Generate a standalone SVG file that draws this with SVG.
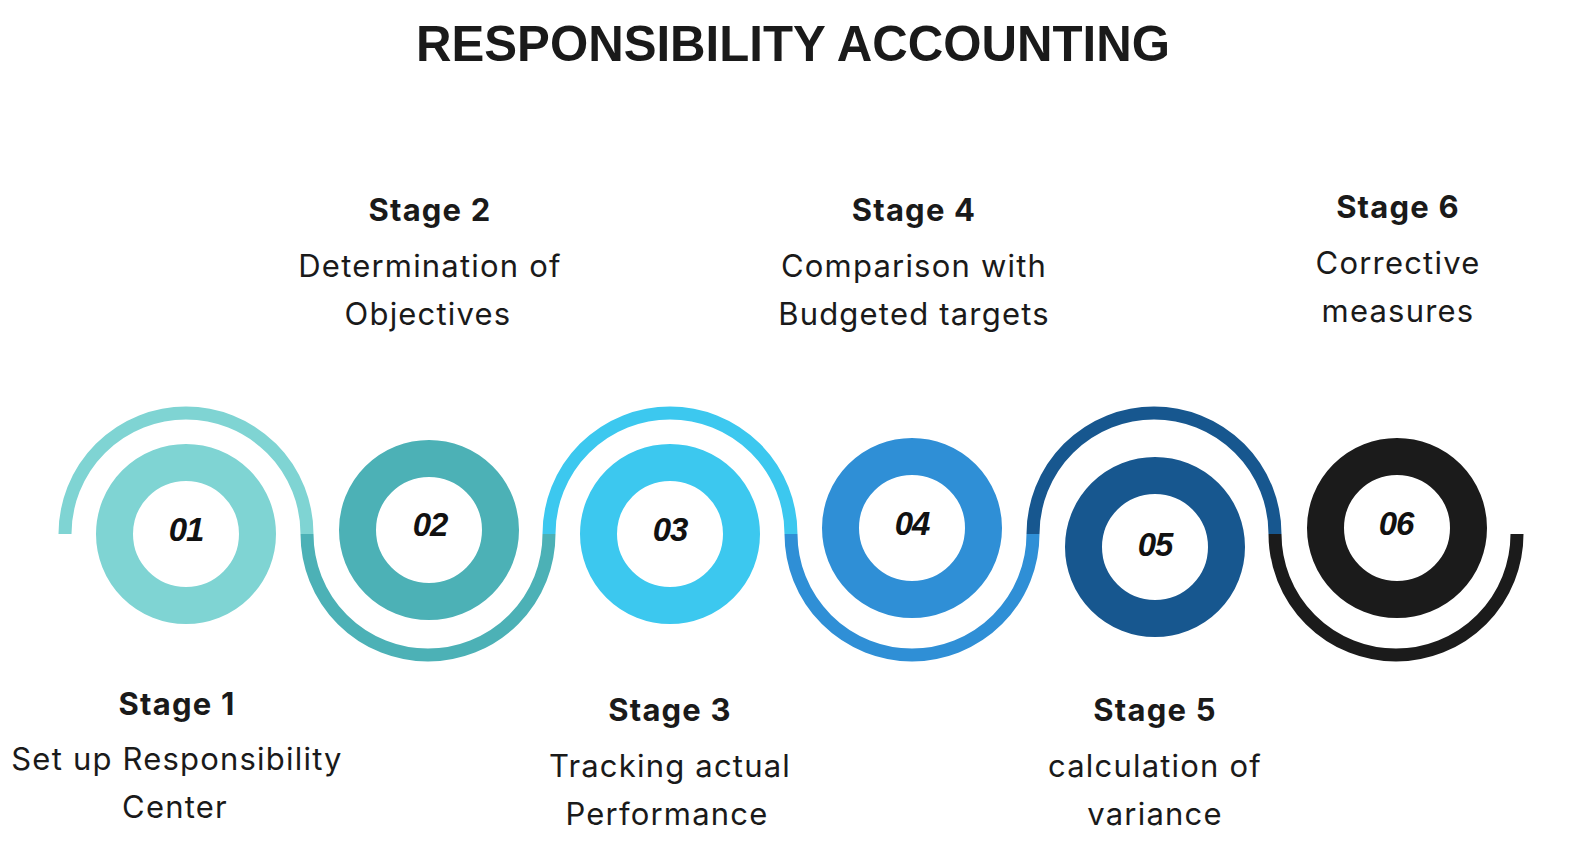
<svg xmlns="http://www.w3.org/2000/svg" width="1582" height="852" viewBox="0 0 1582 852">
<style>
.title{font-family:"Liberation Sans",Arial,sans-serif;font-weight:bold;font-size:50px;fill:#1a1a1a;text-anchor:middle}
.stage{font-family:Inter,"Noto Sans",sans-serif;font-weight:bold;font-size:31px;fill:#1a1a1a;text-anchor:middle;letter-spacing:1.2px}
.desc{font-family:Inter,"Noto Sans",sans-serif;font-size:31px;fill:#1a1a1a;text-anchor:middle;letter-spacing:1.2px}
.num{font-family:"Liberation Sans",Arial,sans-serif;font-weight:bold;font-style:italic;font-size:33px;fill:#111;text-anchor:middle;letter-spacing:-1px}
.ring{fill:#fff;stroke-width:37}
.arc{fill:none;stroke-width:13}
</style>
<rect width="1582" height="852" fill="#fff"/>
<text class="title" x="793" y="61" textLength="754" lengthAdjust="spacingAndGlyphs">RESPONSIBILITY ACCOUNTING</text>
<g id="connectors">
<path class="arc" stroke="#7fd4d3" d="M65 534 A121 121 0 0 1 307 534"/>
<path class="arc" stroke="#4cb1b6" d="M307 534 A121 121 0 0 0 549 534"/>
<path class="arc" stroke="#3cc8ef" d="M549 534 A121 121 0 0 1 791 534"/>
<path class="arc" stroke="#2f8fd6" d="M791 534 A121 121 0 0 0 1033 534"/>
<path class="arc" stroke="#17578f" d="M1033 534 A121 121 0 0 1 1275 534"/>
<path class="arc" stroke="#1b1b1b" d="M1275 534 A121 121 0 0 0 1517 534"/>
</g>
<g id="stage1">
<circle class="ring" cx="186" cy="534" r="71.5" stroke="#7fd4d3"/>
<text class="num" x="186" y="541">01</text>
<text class="stage" x="177" y="715">Stage 1</text>
<text class="desc" x="177" y="770">Set up Responsibility</text>
<text class="desc" x="175" y="818">Center</text>
</g>
<g id="stage2">
<circle class="ring" cx="429" cy="530" r="71.5" stroke="#4cb1b6"/>
<text class="num" x="430" y="536">02</text>
<text class="stage" x="430" y="221">Stage 2</text>
<text class="desc" x="430" y="277">Determination of</text>
<text class="desc" x="428" y="325">Objectives</text>
</g>
<g id="stage3">
<circle class="ring" cx="670" cy="534" r="71.5" stroke="#3cc8ef"/>
<text class="num" x="670" y="541">03</text>
<text class="stage" x="670" y="721">Stage 3</text>
<text class="desc" x="670" y="777">Tracking actual</text>
<text class="desc" x="667" y="825">Performance</text>
</g>
<g id="stage4">
<circle class="ring" cx="912" cy="528" r="71.5" stroke="#2f8fd6"/>
<text class="num" x="912" y="535">04</text>
<text class="stage" x="914" y="221">Stage 4</text>
<text class="desc" x="914" y="277">Comparison with</text>
<text class="desc" x="914" y="325">Budgeted targets</text>
</g>
<g id="stage5">
<circle class="ring" cx="1155" cy="547" r="71.5" stroke="#17578f"/>
<text class="num" x="1155" y="556">05</text>
<text class="stage" x="1155" y="721">Stage 5</text>
<text class="desc" x="1155" y="777">calculation of</text>
<text class="desc" x="1155" y="825">variance</text>
</g>
<g id="stage6">
<circle class="ring" cx="1397" cy="528" r="71.5" stroke="#1b1b1b"/>
<text class="num" x="1396" y="535">06</text>
<text class="stage" x="1398" y="218">Stage 6</text>
<text class="desc" x="1398" y="274">Corrective</text>
<text class="desc" x="1398" y="322">measures</text>
</g>
</svg>
